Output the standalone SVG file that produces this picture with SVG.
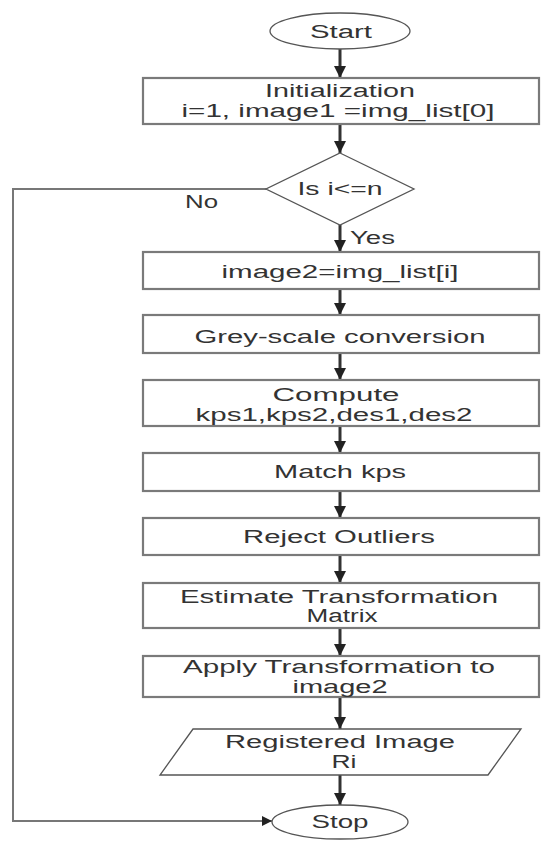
<svg xmlns="http://www.w3.org/2000/svg" width="550" height="851" viewBox="0 0 550 851">
<defs>
<style>
.box{fill:#fff;stroke:#7a7a7a;stroke-width:2.2}
.term{fill:#fff;stroke:#555;stroke-width:1.3}
.t{font-family:"Liberation Sans",Arial,sans-serif;font-size:18px;fill:#333;text-anchor:middle}
.ts{font-family:"Liberation Sans",Arial,sans-serif;font-size:18px;fill:#333;text-anchor:start}
.c{fill:none;stroke:#333;stroke-width:3}
.cl{fill:none;stroke:#777;stroke-width:2}
</style>
<marker id="ah" viewBox="0 0 10 10" refX="10" refY="5" markerWidth="4" markerHeight="4" orient="auto" markerUnits="strokeWidth">
<path d="M0,0 L10,5 L0,10 z" fill="#222"/>
</marker>
<marker id="ah2" viewBox="0 0 10 10" refX="10" refY="5" markerWidth="6" markerHeight="5" orient="auto" markerUnits="strokeWidth">
<path d="M0,0 L10,5 L0,10 z" fill="#222"/>
</marker>
</defs>
<rect width="550" height="851" fill="#fff"/>
<g id="connectors">
<line class="c" x1="340" y1="49" x2="340" y2="78" marker-end="url(#ah)"/>
<line class="c" x1="340" y1="124" x2="340" y2="153" marker-end="url(#ah)"/>
<line class="c" x1="340" y1="225" x2="340" y2="252" marker-end="url(#ah)"/>
<line class="c" x1="340" y1="289" x2="340" y2="315" marker-end="url(#ah)"/>
<line class="c" x1="340" y1="353" x2="340" y2="380" marker-end="url(#ah)"/>
<line class="c" x1="340" y1="426" x2="340" y2="453" marker-end="url(#ah)"/>
<line class="c" x1="340" y1="491" x2="340" y2="518" marker-end="url(#ah)"/>
<line class="c" x1="340" y1="555" x2="340" y2="583" marker-end="url(#ah)"/>
<line class="c" x1="340" y1="628" x2="340" y2="656" marker-end="url(#ah)"/>
<line class="c" x1="340" y1="697" x2="340" y2="729" marker-end="url(#ah)"/>
<line class="c" x1="340" y1="775" x2="340" y2="805" marker-end="url(#ah)"/>
<polyline class="cl" points="266,189 13,189 13,821 272,821" marker-end="url(#ah2)"/>
<text class="ts" x="185" y="208" textLength="33" lengthAdjust="spacingAndGlyphs">No</text>
<text class="ts" x="350" y="244" textLength="45" lengthAdjust="spacingAndGlyphs">Yes</text>
</g>
<g id="start">
<ellipse class="term" cx="340" cy="31" rx="70" ry="18"/>
<text class="t" x="341" y="38" textLength="62" lengthAdjust="spacingAndGlyphs">Start</text>
</g>
<g id="init">
<rect class="box" x="143" y="78" width="396" height="46"/>
<text class="t" x="340" y="97" textLength="150" lengthAdjust="spacingAndGlyphs">Initialization</text>
<text class="t" x="338" y="117" textLength="313" lengthAdjust="spacingAndGlyphs">i=1, image1 =img_list[0]</text>
</g>
<g id="decision">
<polygon class="term" points="340,153 414,189 340,225 266,189"/>
<text class="t" x="340" y="195" textLength="85" lengthAdjust="spacingAndGlyphs">Is i&lt;=n</text>
</g>
<g id="image2">
<rect class="box" x="143" y="252" width="396" height="37"/>
<text class="t" x="340" y="278" textLength="237" lengthAdjust="spacingAndGlyphs">image2=img_list[i]</text>
</g>
<g id="grey">
<rect class="box" x="143" y="315" width="396" height="38"/>
<text class="t" x="340" y="343" textLength="291" lengthAdjust="spacingAndGlyphs">Grey-scale conversion</text>
</g>
<g id="compute">
<rect class="box" x="143" y="380" width="396" height="46"/>
<text class="t" x="336" y="401" textLength="127" lengthAdjust="spacingAndGlyphs">Compute</text>
<text class="t" x="334" y="421" textLength="277" lengthAdjust="spacingAndGlyphs">kps1,kps2,des1,des2</text>
</g>
<g id="match">
<rect class="box" x="143" y="453" width="396" height="38"/>
<text class="t" x="340" y="478" textLength="132" lengthAdjust="spacingAndGlyphs">Match kps</text>
</g>
<g id="reject">
<rect class="box" x="143" y="518" width="396" height="37"/>
<text class="t" x="339" y="543" textLength="192" lengthAdjust="spacingAndGlyphs">Reject Outliers</text>
</g>
<g id="estimate">
<rect class="box" x="143" y="583" width="396" height="45"/>
<text class="t" x="339" y="603" textLength="318" lengthAdjust="spacingAndGlyphs">Estimate Transformation</text>
<text class="t" x="342" y="622" textLength="71" lengthAdjust="spacingAndGlyphs">Matrix</text>
</g>
<g id="apply">
<rect class="box" x="143" y="656" width="396" height="41"/>
<text class="t" x="339" y="673" textLength="312" lengthAdjust="spacingAndGlyphs">Apply Transformation to</text>
<text class="t" x="340" y="693" textLength="95" lengthAdjust="spacingAndGlyphs">image2</text>
</g>
<g id="registered">
<polygon class="term" points="193,729 521,729 488,775 160,775"/>
<text class="t" x="340" y="748" textLength="230" lengthAdjust="spacingAndGlyphs">Registered Image</text>
<text class="t" x="344" y="768" textLength="25" lengthAdjust="spacingAndGlyphs">Ri</text>
</g>
<g id="stop">
<ellipse class="term" cx="340" cy="822" rx="68" ry="17"/>
<text class="t" x="340" y="828" textLength="57" lengthAdjust="spacingAndGlyphs">Stop</text>
</g>
</svg>
